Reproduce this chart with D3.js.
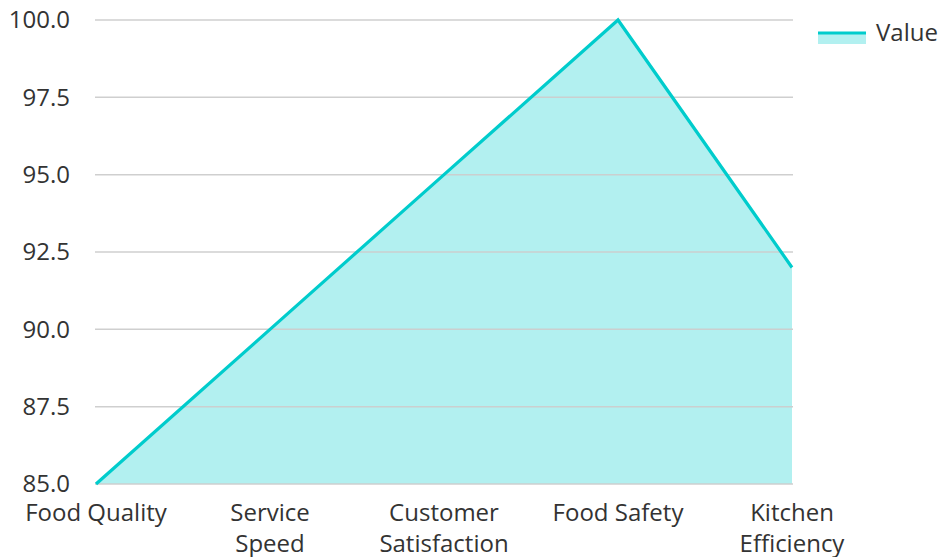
<!DOCTYPE html>
<html><head><meta charset="utf-8">
<script src="https://cdn.jsdelivr.net/npm/d3@7"></script>
<style>body{margin:0;background:#fff}svg{display:block}text{font-family:"Open Sans","Noto Sans",sans-serif;fill:#333}</style>
</head><body>
<script>
const categories = ["Food Quality", "Service Speed", "Customer Satisfaction", "Food Safety", "Kitchen Efficiency"];
const categoryLines = [["Food Quality"], ["Service", "Speed"], ["Customer", "Satisfaction"], ["Food Safety"], ["Kitchen", "Efficiency"]];
const values = [85, 90, 95, 100, 92];
const yTicks = [85, 87.5, 90, 92.5, 95, 97.5, 100];
const seriesName = "Value";

const W = 941, H = 557;
const svg = d3.select("body").append("svg").attr("width", W).attr("height", H);
const x = d3.scalePoint().domain(categories).range([96, 792]);
const y = d3.scaleLinear().domain([85, 100]).range([484, 20]);
const color = "#00cccc";
const fs = 24;

const data = categories.map((c, i) => ({c, v: values[i]}));
const area = d3.area().x(d => x(d.c)).y0(y(85)).y1(d => y(d.v));
const line = d3.line().x(d => x(d.c)).y(d => y(d.v));

svg.append("path").datum(data).attr("d", area).attr("fill", color).attr("fill-opacity", 0.3);

// grid
svg.append("g").selectAll("line").data(yTicks).join("line")
  .attr("x1", 95).attr("x2", 793).attr("y1", d => y(d)).attr("y2", d => y(d))
  .attr("stroke", "#cccccc").attr("stroke-width", 1.5).attr("stroke-opacity", 0.95);

svg.append("path").datum(data).attr("d", line).attr("fill", "none")
  .attr("stroke", color).attr("stroke-width", 3.2).attr("stroke-linejoin", "miter");

// y labels
svg.append("g").selectAll("text").data(yTicks).join("text")
  .attr("x", 70).attr("y", d => y(d)).attr("dy", "0.35em").attr("text-anchor", "end")
  .attr("font-size", fs).text(d => d.toFixed(1));

// x labels
const xl = svg.append("g").selectAll("text").data(categories).join("text")
  .attr("x", d => x(d)).attr("y", 521).attr("text-anchor", "middle").attr("font-size", fs);
xl.each(function(d, i) {
  const t = d3.select(this);
  categoryLines[i].forEach((ln, j) => {
    t.append("tspan").attr("x", x(d)).attr("dy", j === 0 ? 0 : 31).text(ln);
  });
});

// legend
const lg = svg.append("g");
lg.append("rect").attr("x", 818).attr("y", 33).attr("width", 48).attr("height", 11).attr("fill", color).attr("fill-opacity", 0.3);
lg.append("line").attr("x1", 818).attr("x2", 866).attr("y1", 33).attr("y2", 33).attr("stroke", color).attr("stroke-width", 3);
lg.append("text").attr("x", 876).attr("y", 33).attr("dy", "0.35em").attr("font-size", fs).text(seriesName);
</script>
</body></html>
